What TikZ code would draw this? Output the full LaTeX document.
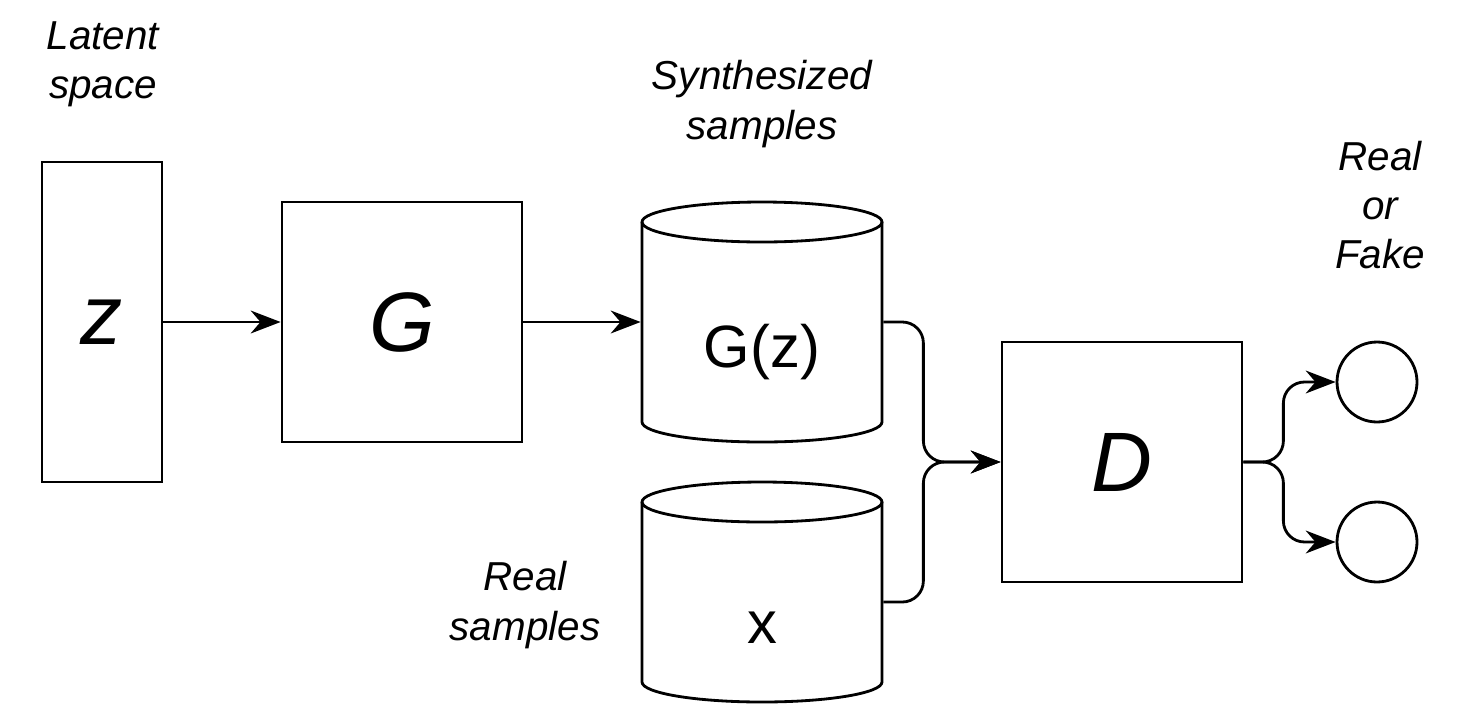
\documentclass[tikz,border=0pt]{standalone}
\usepackage{fontspec}
\setmainfont{Liberation Sans}
\usetikzlibrary{arrows.meta}
\begin{document}
\begin{tikzpicture}[x=0.02cm,y=-0.02cm,line width=1.6pt,
  box/.style={draw,rectangle,inner sep=0pt},
  lbl/.style={align=center,font=\fontsize{23}{28}\selectfont\itshape},
  big/.style={font=\fontsize{48}{54}\selectfont\itshape},
  arr/.style={-{Stealth[length=17pt,width=13pt]},rounded corners=12pt}]
		\useasboundingbox (0,0) rectangle (1460,724);

		% boxes
		\node[box,minimum width=2.4cm,minimum height=6.4cm,big] (z) at (102,322) {z};
		\node[box,minimum width=4.8cm,minimum height=4.8cm,big] (g) at (402,322) {G};
		\node[box,minimum width=4.8cm,minimum height=4.8cm,big] (d) at (1122,462) {D};

		% cylinders
		\draw (642,222) -- (642,422) arc (180:0:120 and 20) -- (882,222);
		\draw (762,222) ellipse (120 and 20);
		\node[minimum width=4.8cm,minimum height=4.4cm,font=\fontsize{34}{40}\selectfont] (gz) at (762,322) {};
		\node[font=\fontsize{34}{40}\selectfont] at (762,352) {G(z)};
		\draw (642,502) -- (642,682) arc (180:0:120 and 20) -- (882,502);
		\draw (762,502) ellipse (120 and 20);
		\node[minimum width=4.8cm,minimum height=4.4cm] (x) at (762,602) {};
		\node[font=\fontsize{34}{40}\selectfont] at (762,628) {x};

		% outputs
		\node[draw,circle,minimum size=1.6cm] (c1) at (1377,382) {};
		\node[draw,circle,minimum size=1.6cm] (c2) at (1377,542) {};

		% labels
		\node[lbl] at (103,64) {Latent\\space};
		\node[lbl] at (762,104) {Synthesized\\samples};
		\node[lbl] at (525,605) {Real\\samples};
		\node[lbl] at (1380,205) {Real\\or\\Fake};

		% connectors
		\draw[arr] (z) -- (g);
		\draw[arr] (g) -- (gz);
		\draw[arr] (gz.east) -- ++(40,0) |- (d.west);
		\draw[arr] (x.east) -- ++(40,0) |- (d.west);
		\draw[arr] (d.east) -- ++(40,0) |- (c1.west);
		\draw[arr] (d.east) -- ++(40,0) |- (c2.west);
\end{tikzpicture}
\end{document}
